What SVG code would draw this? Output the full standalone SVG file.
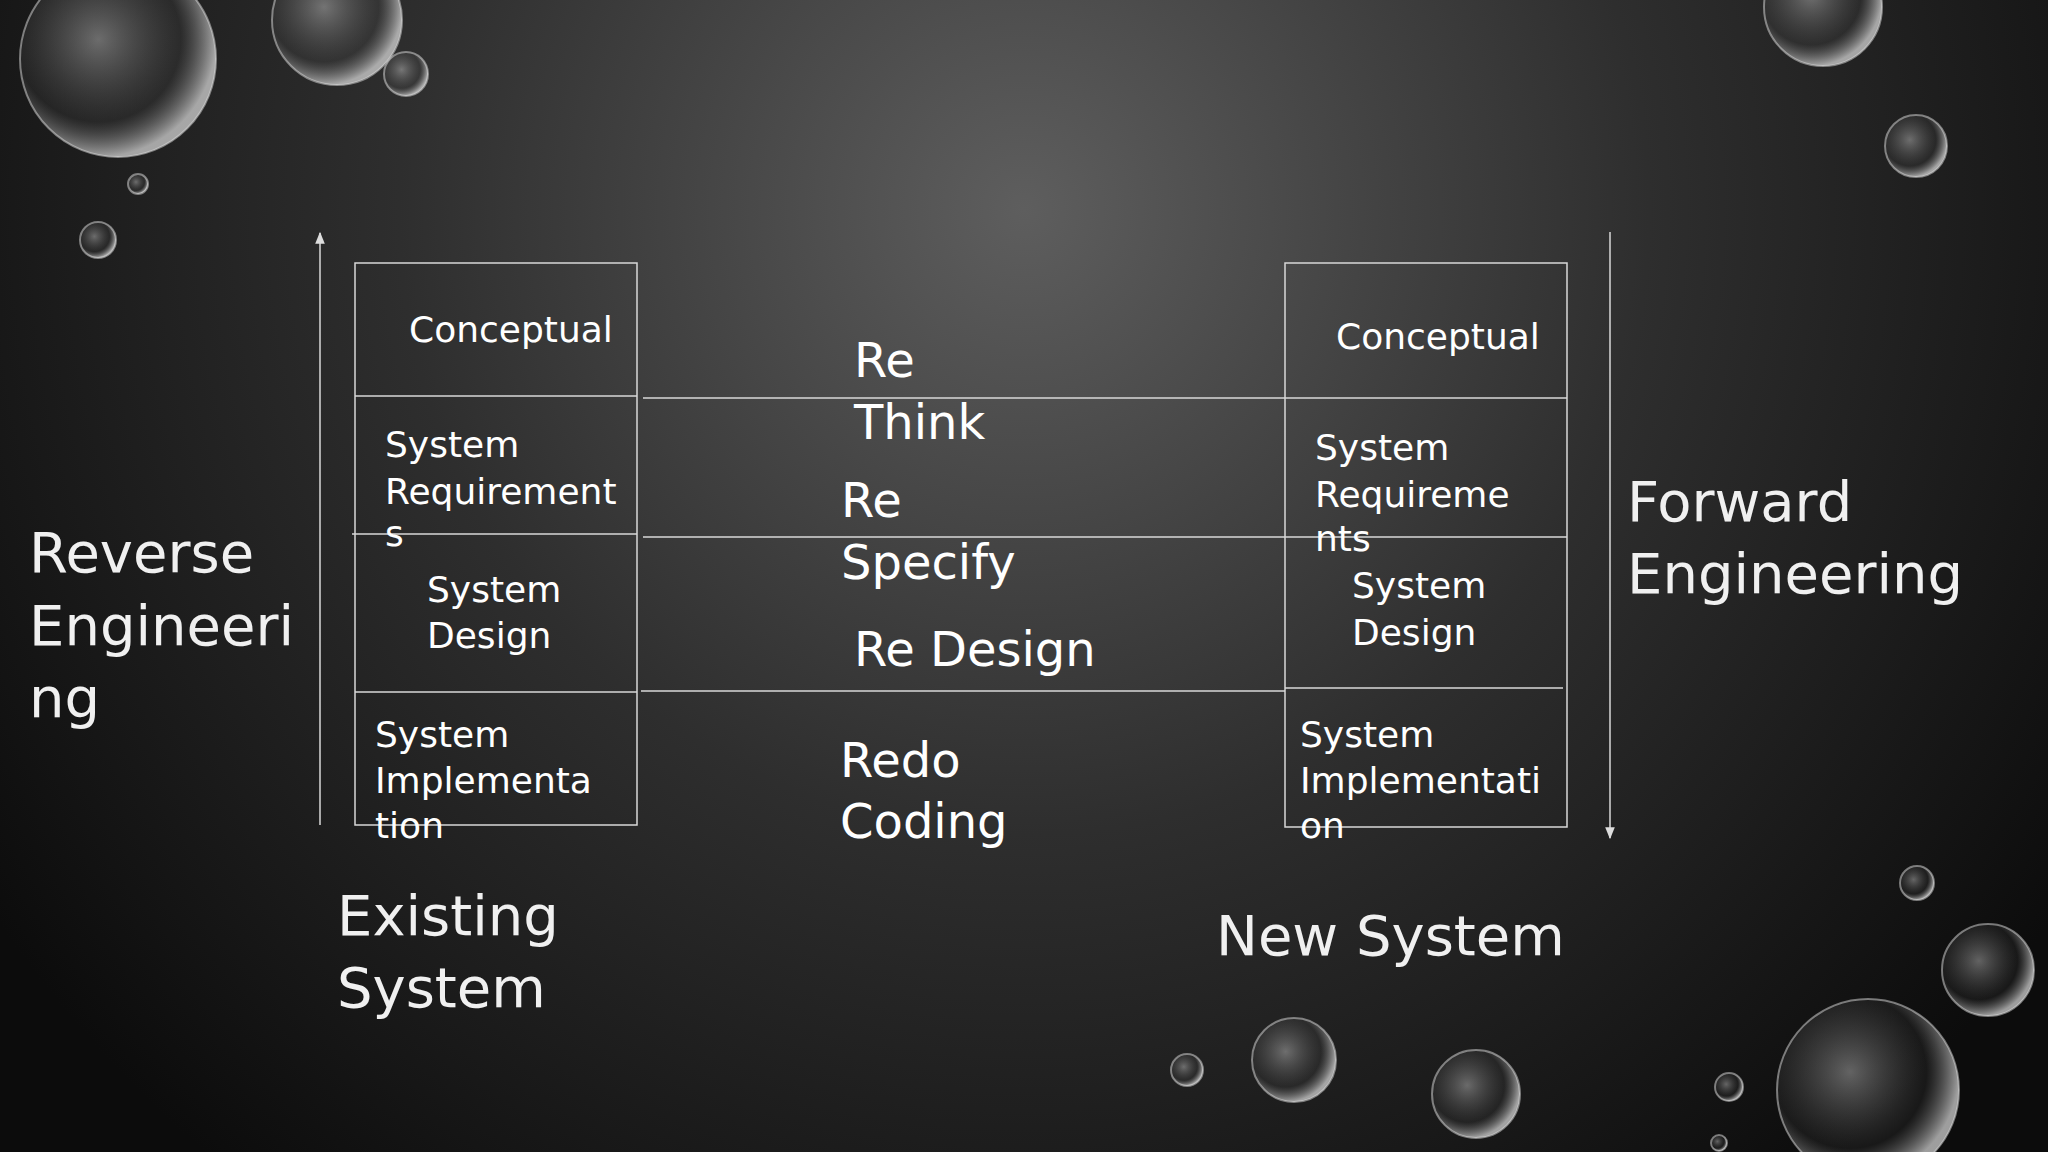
<svg xmlns="http://www.w3.org/2000/svg" width="2048" height="1152" viewBox="0 0 2048 1152">
<defs>
<radialGradient id="bg" cx="1024" cy="209" r="1250" gradientUnits="userSpaceOnUse">
<stop offset="0" stop-color="#5e5e5e"/><stop offset="0.5" stop-color="#2e2e2e"/><stop offset="1" stop-color="#0c0c0c"/>
</radialGradient>
<radialGradient id="bub" cx="0.4" cy="0.4" r="0.6">
<stop offset="0" stop-color="#fff" stop-opacity="0.35"/><stop offset="0.7" stop-color="#888" stop-opacity="0.1"/><stop offset="1" stop-color="#fff" stop-opacity="0.6"/>
</radialGradient>
<marker id="ah" viewBox="0 0 10 10" refX="9" refY="5" markerWidth="8" markerHeight="8" orient="auto"><path d="M0,1 L10,5 L0,9 z" fill="#ddd"/></marker>
<style>
.ln{stroke:#d8d8d8;stroke-width:1.5;fill:none}
.t{font-family:"DejaVu Sans",Verdana,sans-serif;fill:#fff;font-size:36px}
.m{font-family:"DejaVu Sans",Verdana,sans-serif;fill:#fff;font-size:48px}
.b{font-family:"DejaVu Sans",Verdana,sans-serif;fill:#f0f0f0;font-size:56px}
.bb{fill:url(#bub);stroke:#ddd;stroke-opacity:0.5;stroke-width:2}
</style>
</defs>
<rect width="2048" height="1152" fill="url(#bg)"/>
<g id="bubbles">
<circle class="bb" cx="118" cy="59" r="98"/><circle class="bb" cx="337" cy="20" r="65"/><circle class="bb" cx="406" cy="74" r="22"/>
<circle class="bb" cx="138" cy="184" r="10"/><circle class="bb" cx="98" cy="240" r="18"/><circle class="bb" cx="1823" cy="7" r="59"/>
<circle class="bb" cx="1916" cy="146" r="31"/><circle class="bb" cx="1917" cy="883" r="17"/><circle class="bb" cx="1988" cy="970" r="46"/>
<circle class="bb" cx="1868" cy="1090" r="91"/><circle class="bb" cx="1729" cy="1087" r="14"/><circle class="bb" cx="1294" cy="1060" r="42"/>
<circle class="bb" cx="1476" cy="1094" r="44"/><circle class="bb" cx="1187" cy="1070" r="16"/><circle class="bb" cx="1719" cy="1143" r="8"/>
</g>
<g id="existing">
<rect class="ln" x="355" y="263" width="282" height="562"/>
<line class="ln" x1="355" y1="396" x2="637" y2="396"/><line class="ln" x1="352" y1="534" x2="637" y2="534"/><line class="ln" x1="355" y1="692" x2="637" y2="692"/>
<text class="t" x="409" y="342">Conceptual</text>
<text class="t" x="385" y="457">System</text><text class="t" x="385" y="504">Requirement</text><text class="t" x="385" y="546">s</text>
<text class="t" x="427" y="602">System</text><text class="t" x="427" y="648">Design</text>
<text class="t" x="375" y="747">System</text><text class="t" x="375" y="793">Implementa</text><text class="t" x="375" y="838">tion</text>
</g>
<g id="new">
<rect class="ln" x="1285" y="263" width="282" height="564"/>
<line class="ln" x1="1285" y1="398" x2="1567" y2="398"/><line class="ln" x1="1285" y1="537" x2="1567" y2="537"/><line class="ln" x1="1285" y1="688" x2="1563" y2="688"/>
<text class="t" x="1336" y="349">Conceptual</text>
<text class="t" x="1315" y="460">System</text><text class="t" x="1315" y="507">Requireme</text><text class="t" x="1315" y="551">nts</text>
<text class="t" x="1352" y="598">System</text><text class="t" x="1352" y="645">Design</text>
<text class="t" x="1300" y="747">System</text><text class="t" x="1300" y="793">Implementati</text><text class="t" x="1300" y="838">on</text>
</g>
<g id="connectors">
<line class="ln" x1="643" y1="398" x2="1285" y2="398"/>
<line class="ln" x1="643" y1="537" x2="1285" y2="537"/>
<line class="ln" x1="641" y1="691" x2="1285" y2="691"/>
<line class="ln" x1="320" y1="825" x2="320" y2="233" marker-end="url(#ah)"/>
<line class="ln" x1="1610" y1="232" x2="1610" y2="838" marker-end="url(#ah)"/>
</g>
<g id="labels">
<text class="m" x="854" y="377">Re</text><text class="m" x="854" y="439">Think</text>
<text class="m" x="841" y="517">Re</text><text class="m" x="841" y="579">Specify</text>
<text class="m" x="854" y="666">Re Design</text>
<text class="m" x="840" y="777">Redo</text><text class="m" x="840" y="838">Coding</text>
<text class="b" x="29" y="572">Reverse</text><text class="b" x="29" y="645">Engineeri</text><text class="b" x="29" y="717">ng</text>
<text class="b" x="1627" y="521">Forward</text><text class="b" x="1627" y="593">Engineering</text>
<text class="b" x="337" y="935">Existing</text><text class="b" x="337" y="1007">System</text>
<text class="b" x="1216" y="955">New System</text>
</g>
</svg>
